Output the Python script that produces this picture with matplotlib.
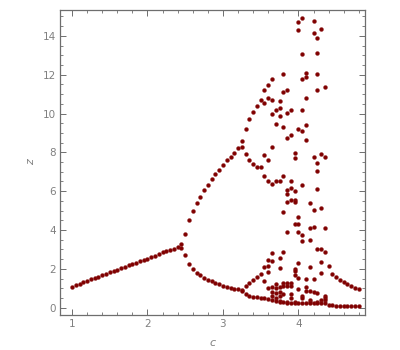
import numpy as np
import matplotlib
matplotlib.use('Agg')
import matplotlib.pyplot as plt
from matplotlib.ticker import MultipleLocator

# period-1 branch
c_p1 = np.round(np.arange(1.00, 2.401, 0.05), 2)
z_p1 = [1.08, 1.19, 1.24, 1.34, 1.39, 1.49, 1.55, 1.60, 1.70, 1.75,
        1.86, 1.91, 1.96, 2.06, 2.11, 2.22, 2.27, 2.32, 2.42, 2.47,
        2.53, 2.63, 2.68, 2.78, 2.89, 2.94, 2.99, 3.04, 3.14]

# period-2 branches
c_p2 = np.round(np.arange(2.45, 3.201, 0.05), 2)
z_p2_hi = [3.30, 3.81, 4.54, 5.00, 5.41, 5.72, 6.08, 6.34, 6.65, 6.91,
           7.11, 7.37, 7.58, 7.78, 7.99, 8.20]
z_p2_lo = [3.09, 2.73, 2.27, 2.01, 1.80, 1.70, 1.55, 1.45, 1.39, 1.29,
           1.24, 1.14, 1.08, 1.03, 0.98, 0.98]

# period-4 branches
c_p4 = [3.25, 3.30, 3.35, 3.40, 3.45, 3.50]
z_p4_a = [8.56, 9.20, 9.74, 10.10, 10.41, 10.72]
z_p4_b = [8.25, 7.89, 7.58, 7.42, 7.27, 7.22]
z_p4_c = [0.93, 1.13, 1.29, 1.44, 1.60, 1.75]
z_p4_d = [0.88, 0.72, 0.62, 0.57, 0.57, 0.52]

# chaotic band
c_chaos = [3.55, 3.60, 3.65, 3.70, 3.75, 3.80, 3.85, 3.90, 3.95,
           4.00, 4.05, 4.10, 4.15, 4.20, 4.25, 4.30, 4.35]
z_chaos = [
    [11.19, 10.52, 7.84, 6.80, 2.11, 1.39, 0.52],
    [11.49, 10.82, 7.58, 6.55, 2.47, 2.16, 1.86, 1.03, 0.46],
    [11.80, 10.67, 9.95, 8.25, 6.39, 2.84, 2.42, 1.08, 0.83, 0.62, 0.41],
    [10.20, 9.48, 6.50, 1.24, 1.03, 0.78, 0.52, 0.36],
    [10.62, 10.26, 9.85, 6.50, 2.58, 2.06, 1.08, 0.83, 0.62, 0.36, 0.31],
    [12.06, 11.13, 9.33, 6.80, 4.95, 2.89, 1.29, 1.14, 0.72, 0.31],
    [11.19, 10.05, 8.76, 6.05, 5.84, 5.46, 3.92, 1.29, 1.14, 0.31, 0.26],
    [10.20, 8.87, 6.50, 6.15, 5.57, 1.29, 1.14, 0.72, 0.52, 0.26],
    [7.99, 7.73, 5.99, 5.57, 5.46, 4.33, 2.01, 1.91, 1.70, 0.31, 0.26],
    [14.69, 14.28, 9.18, 4.69, 4.33, 3.92, 2.32, 1.55, 0.98, 0.26],
    [14.90, 13.04, 11.80, 10.20, 9.12, 6.34, 3.76, 3.45, 0.62, 0.52, 0.26],
    [12.11, 11.86, 10.82, 9.43, 8.66, 1.49, 1.08, 0.88, 0.26],
    [5.41, 4.12, 3.51, 2.11, 0.88, 0.41, 0.31, 0.26],
    [14.74, 14.12, 7.78, 5.05, 4.18, 1.49, 0.83, 0.26],
    [13.87, 13.09, 12.06, 11.19, 7.47, 7.06, 6.13, 3.04, 0.78, 0.31, 0.26],
    [14.33, 7.94, 5.15, 3.00, 2.37, 1.80, 0.41, 0.26],
    [11.39, 7.78, 4.12, 2.89, 0.62, 0.52, 0.41, 0.26],
]

# periodic window
c_win = [4.40, 4.45, 4.50, 4.55, 4.60, 4.65, 4.70, 4.75, 4.80]
z_win_hi = [2.16, 1.75, 1.60, 1.44, 1.34, 1.24, 1.13, 1.03, 0.98]
z_win_lo = [0.15, 0.15, 0.10, 0.10, 0.10, 0.10, 0.10, 0.10, 0.10]

# collect points
cs, zs = list(c_p1), list(z_p1)
for zz in (z_p2_hi, z_p2_lo):
    cs += list(c_p2); zs += zz
for zz in (z_p4_a, z_p4_b, z_p4_c, z_p4_d):
    cs += c_p4; zs += zz
for c, zz in zip(c_chaos, z_chaos):
    cs += [c] * len(zz); zs += zz
for zz in (z_win_hi, z_win_lo):
    cs += c_win; zs += zz

fig = plt.figure(figsize=(4, 3.5), dpi=100)
ax = fig.add_axes([60/400, 35/350, 305/400, 305/350])
ax.plot(cs, zs, 'o', color='#800000', ms=2.8, mec='#8b1a1a', mew=0.3)

ax.set_xlim(0.841, 4.882)
ax.set_ylim(-0.376, 15.33)
ax.xaxis.set_major_locator(MultipleLocator(1))
ax.xaxis.set_minor_locator(MultipleLocator(0.2))
ax.yaxis.set_major_locator(MultipleLocator(2))
ax.yaxis.set_minor_locator(MultipleLocator(0.5))

frame = '#6e6e6e'
for s in ax.spines.values():
    s.set_color(frame)
    s.set_linewidth(0.9)
ax.tick_params(which='both', direction='in', top=True, right=True,
               color=frame, labelcolor='#808080', labelsize=7.5, pad=3)
ax.tick_params(which='major', length=4, width=0.7)
ax.tick_params(which='minor', length=2, width=0.6)

ax.set_xlabel('c', fontsize=8, style='italic', color='#808080', labelpad=6)
ax.set_ylabel('z', fontsize=8, style='italic', color='#808080', labelpad=5)

fig.savefig('out.png', dpi=100)
